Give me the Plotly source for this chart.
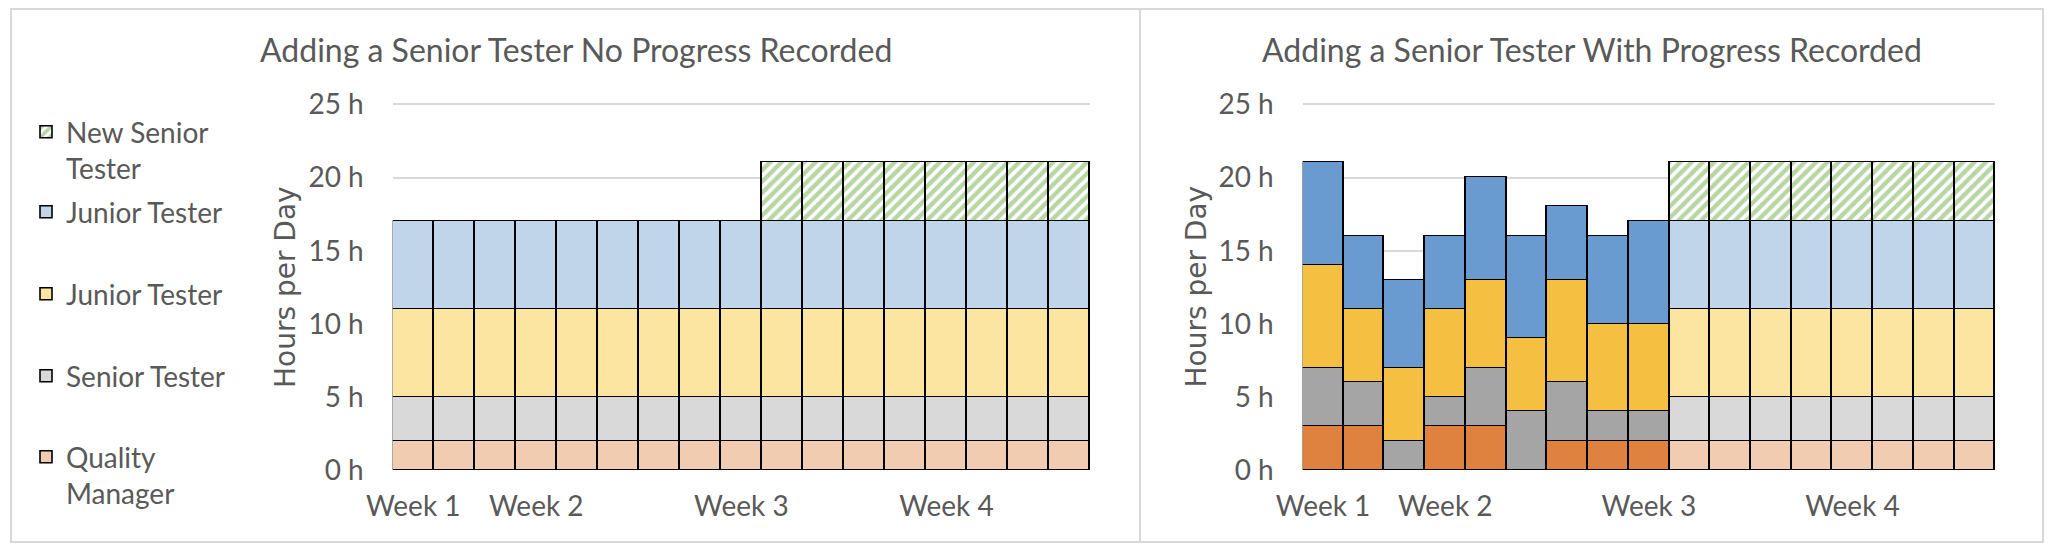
import plotly.graph_objects as go
from plotly.subplots import make_subplots

# ---------------- data ----------------
days = list(range(17))
week_tick_pos = [0, 3, 8, 13]
week_labels = ["Week 1", "Week 2", "Week 3", "Week 4"]
y_ticks = [0, 5, 10, 15, 20, 25]
y_tick_labels = ["0 h", "5 h", "10 h", "15 h", "20 h", "25 h"]

roles = ["Quality<br>Manager", "Senior Tester", "Junior Tester", "Junior Tester", "New Senior<br>Tester"]

# left chart: plan without progress recorded
left_qm = [2] * 17
left_senior = [3] * 17
left_junior_y = [6] * 17
left_junior_b = [6] * 17
left_new = [None] * 9 + [4] * 8

# right chart: recorded days followed by plan
right_qm = [3, 3, None, 3, 3, None, 2, 2, 2] + [2] * 8
right_senior = [4, 3, 2, 2, 4, 4, 4, 2, 2] + [3] * 8
right_junior_y = [7, 5, 5, 6, 6, 5, 7, 6, 6] + [6] * 8
right_junior_b = [7, 5, 6, 5, 7, 7, 5, 6, 7] + [6] * 8
right_new = [None] * 9 + [4] * 8
n_recorded = 9

# colours
light = ["#F2CCB0", "#D9D9D9", "#FBE5A0", "#C0D5EA"]
dark = ["#E0823F", "#A5A5A5", "#F5BF42", "#6A9BD0"]
green = "#70AD47"

FONT = "Lato"
GREY = "#595959"

fig = make_subplots(rows=1, cols=2)

left_series = [left_qm, left_senior, left_junior_y, left_junior_b]
right_series = [right_qm, right_senior, right_junior_y, right_junior_b]
legend_ids = ["legend5", "legend4", "legend3", "legend2"]

line = dict(color="black", width=1.6)
hatch = dict(shape="/", fgcolor=green, bgcolor="white", size=8, solidity=0.55)

for i, vals in enumerate(left_series):
    fig.add_trace(go.Bar(x=days, y=vals, name=roles[i],
                         marker=dict(color=light[i], line=line),
                         legend=legend_ids[i], showlegend=True), row=1, col=1)
fig.add_trace(go.Bar(x=days, y=left_new, name=roles[4],
                     marker=dict(color="white", line=line, pattern=hatch),
                     legend="legend", showlegend=True), row=1, col=1)

for i, vals in enumerate(right_series):
    cols = [dark[i] if d < n_recorded else light[i] for d in days]
    fig.add_trace(go.Bar(x=days, y=vals, name=roles[i],
                         marker=dict(color=cols, line=line),
                         showlegend=False), row=1, col=2)
fig.add_trace(go.Bar(x=days, y=right_new, name=roles[4],
                     marker=dict(color="white", line=line, pattern=hatch),
                     showlegend=False), row=1, col=2)

W, H = 2048, 550
def px(x):
    return x / W
def py(y):
    return (H - y) / H

y0_px, y25_px = 470.5, 104.3
unit = (y0_px - y25_px) / 25
ytop = 25.4
dom_y = [py(y0_px), py(y0_px - ytop * unit)]

xaxis_common = dict(range=[-0.5, 16.5], tickmode="array", tickvals=week_tick_pos,
                    ticktext=week_labels, showgrid=False, zeroline=False, showline=False,
                    ticks="", tickfont=dict(family=FONT, size=28, color=GREY),
                    ticklabelstandoff=16, fixedrange=True, automargin=False)
yaxis_common = dict(range=[0, ytop], tickmode="array", tickvals=y_ticks,
                    ticktext=y_tick_labels, showgrid=True, gridcolor="#D9D9D9", gridwidth=1.6,
                    zeroline=False, showline=False, ticks="",
                    tickfont=dict(family=FONT, size=28, color=GREY),
                    ticklabelstandoff=28, domain=dom_y, fixedrange=True, automargin=False)

fig.update_layout(
    width=W, height=H, margin=dict(l=0, r=0, t=0, b=0, autoexpand=False),
    paper_bgcolor="white", plot_bgcolor="white",
    barmode="stack", bargap=0,
    xaxis=dict(xaxis_common, domain=[px(392.7), px(1090)]),
    xaxis2=dict(xaxis_common, domain=[px(1302.7), px(1995)]),
    yaxis=dict(yaxis_common),
    yaxis2=dict(yaxis_common),
    showlegend=True,
)

# legends: one per role, placed like the reference
leg_font = dict(family=FONT, size=28, color=GREY)
leg_tops = {"legend": 133, "legend2": 213, "legend3": 295, "legend4": 377, "legend5": 458}
for lid, yc in leg_tops.items():
    fig.update_layout({lid: dict(x=px(26), xanchor="left", y=py(yc - 26), yanchor="top",
                                 valign="top", font=leg_font, bgcolor="rgba(0,0,0,0)",
                                 borderwidth=0, itemclick=False, itemdoubleclick=False)})

# panel borders
for x0, x1 in [(11, 1140), (1140, 2043)]:
    fig.add_shape(type="rect", xref="paper", yref="paper",
                  x0=px(x0), x1=px(x1), y0=py(542), y1=py(9),
                  line=dict(color="#D9D9D9", width=2), fillcolor="rgba(0,0,0,0)", layer="below")

# titles
fig.add_annotation(text="Adding a Senior Tester No Progress Recorded", xref="paper", yref="paper",
                   x=px(575.5), y=py(49), xanchor="center", yanchor="middle", showarrow=False,
                   font=dict(family=FONT, size=32, color=GREY))
fig.add_annotation(text="Adding a Senior Tester With Progress Recorded", xref="paper", yref="paper",
                   x=px(1591.5), y=py(49), xanchor="center", yanchor="middle", showarrow=False,
                   font=dict(family=FONT, size=32, color=GREY))

# axis titles
for xc in [286, 1196.5]:
    fig.add_annotation(text="Hours per Day", xref="paper", yref="paper",
                       x=px(xc), y=py(287), xanchor="center", yanchor="middle",
                       showarrow=False, textangle=-90,
                       font=dict(family="DejaVu Sans", size=28, color=GREY))

fig.write_html("out.html")
